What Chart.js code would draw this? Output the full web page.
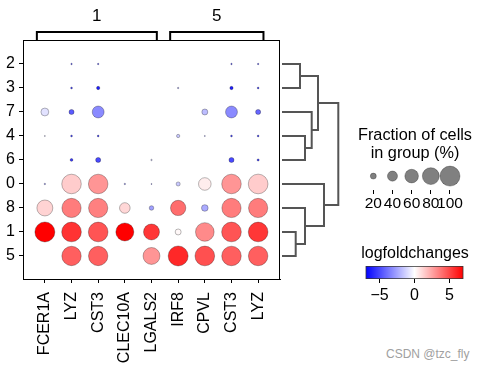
<!DOCTYPE html>
<html>
<head>
<meta charset="utf-8">
<script src="https://cdn.jsdelivr.net/npm/chart.js@4/dist/chart.umd.min.js"></script>
<style>
  body { margin: 0; background: #fff; }
  #wrap { position: relative; width: 484px; height: 371px; background: #fff; overflow: hidden; }
  canvas { position: absolute; }
  #mark { position: absolute; left: 386px; top: 347px; font: 12px "Liberation Sans", Arial, sans-serif; color: #a0a0a0; white-space: nowrap; }
</style>
</head>
<body>
<div id="wrap">
  <canvas id="dots" width="290" height="371" style="left:0;top:0;width:290px;height:371px"></canvas>
  <canvas id="dendro" width="60" height="239" style="left:282px;top:40px;width:60px;height:239px"></canvas>
  <canvas id="sizes" width="120" height="87" style="left:355px;top:127px;width:120px;height:87px"></canvas>
  <canvas id="cbar" width="120" height="60" style="left:355px;top:244px;width:120px;height:60px"></canvas>
  <div id="mark">CSDN @tzc_fly</div>
</div>
<script>
const rows = ['2', '3', '7', '4', '6', '0', '8', '1', '5'];
const genes = ['FCER1A', 'LYZ', 'CST3', 'CLEC10A', 'LGALS2', 'IRF8', 'CPVL', 'CST3', 'LYZ'];

const groupLabels = ['1', '5'];
const groupStart = [0, 5];
const groupEnd = [4, 8];

// fraction of cells expressing (%), one array per row
const fractions = [
    [0, 3, 3, 0, 0, 0, 0, 3, 3],
    [0, 4, 9, 0, 0, 3, 0, 9, 4],
    [29, 16, 50, 0, 0, 0, 20, 50, 16],
    [2, 4, 4, 0, 0, 9, 2, 4, 4],
    [0, 7, 16, 0, 3, 0, 0, 16, 5],
    [3, 97, 97, 3, 2, 12, 54, 97, 98],
    [74, 95, 95, 43, 14, 70, 23, 95, 95],
    [100, 98, 98, 87, 74, 20, 91, 98, 98],
    [0, 96, 96, 0, 80, 100, 98, 97, 97],
];

// logfoldchanges, same layout
const lfc = [
    [0, -5, -5, 0, 0, 0, 0, -5, -5],
    [0, -5, -6.2, 0, 0, -2.5, 0, -6.2, -5],
    [-0.8, -4.5, -3.2, 0, 0, 0, -1.8, -3.2, -4.2],
    [-1.5, -5, -5, 0, 0, -1.5, -3, -5, -5],
    [0, -5.5, -5, 0, -1.5, 0, 0, -5, -5.5],
    [-3, 1.4, 2.9, -3, -3, -1.5, 0.5, 2.9, 1.4],
    [1.2, 3.6, 3.5, 1.1, -2.6, 4.0, -2.3, 3.6, 3.6],
    [7, 5.6, 4.7, 7, 5.5, 0.2, 3.2, 4.7, 5.5],
    [0, 4.4, 4.4, 0, 2.9, 5.9, 4.8, 4.4, 4.4],
];

// dendrogram merges: left child, right child, height, new node name
const linkLeft = ['2', '4', '7', 'A', '1', '8', '0', 'D'];
const linkRight = ['3', '6', 'B', 'C', '5', 'E', 'F', 'G'];
const linkHeight = [18, 23, 29.7, 36, 13.7, 23, 42, 56.3];
const linkName = ['A', 'B', 'C', 'D', 'E', 'F', 'G', 'R'];

const sizeTicks = [20, 40, 60, 80, 100];
const colorTicks = [-5, 0, 5];
const vmin = -7, vmax = 7;

const FONT = '"Liberation Sans", Arial, sans-serif';
Chart.defaults.font.family = FONT;
Chart.defaults.color = '#000';
Chart.defaults.layout.autoPadding = false;

const dotRadius = (f) => 10 * Math.pow(f / 100, 0.75);
const bwr = (v) => {
    const t = (Math.min(Math.max(v, vmin), vmax) - vmin) / (vmax - vmin);
    if (t < 0.5) {
        const s = Math.round(255 * t * 2);
        return `rgb(${s},${s},255)`;
    }
    const s = Math.round(255 * (1 - (t - 0.5) * 2));
    return `rgb(255,${s},${s})`;
};

const points = [];
rows.forEach((r, i) => {
    genes.forEach((g, j) => {
        if (fractions[i][j] > 0) points.push({ x: j, y: i, f: fractions[i][j], v: lfc[i][j] });
    });
});

const groupPlugin = {
    id: 'groups',
    afterDraw(chart) {
        const { ctx, chartArea: a, scales: { x } } = chart;
        ctx.save();
        ctx.strokeStyle = '#000';
        ctx.lineWidth = 1;
        ctx.strokeRect(a.left + 0.5, a.top + 0.5, a.right - a.left - 1, a.bottom - a.top);
        ctx.lineWidth = 2;
        ctx.font = `17px ${FONT}`;
        ctx.fillStyle = '#000';
        ctx.textAlign = 'center';
        ctx.textBaseline = 'middle';
        groupLabels.forEach((lab, i) => {
            const x0 = x.getPixelForValue(groupStart[i] - 0.3);
            const x1 = x.getPixelForValue(groupEnd[i] + 0.2);
            ctx.beginPath();
            ctx.moveTo(x0, a.top);
            ctx.lineTo(x0, a.top - 8);
            ctx.lineTo(x1, a.top - 8);
            ctx.lineTo(x1, a.top);
            ctx.stroke();
            ctx.fillText(lab, (x0 + x1) / 2, 16);
        });
        ctx.restore();
    },
};

new Chart(document.getElementById('dots'), {
    type: 'scatter',
    data: {
        datasets: [{
            data: points,
            pointRadius: (c) => (c.raw ? dotRadius(c.raw.f) : 0),
            pointBackgroundColor: (c) => (c.raw ? bwr(c.raw.v) : '#fff'),
            pointBorderColor: 'rgba(0,0,0,0.55)',
            pointBorderWidth: 0.5,
            clip: false,
        }],
    },
    options: {
        responsive: false,
        animation: false,
        events: [],
        layout: { padding: { top: 40, right: 10, left: 0, bottom: 0 } },
        plugins: { legend: { display: false }, tooltip: { enabled: false } },
        scales: {
            x: {
                type: 'linear',
                min: -0.82,
                max: 8.82,
                afterBuildTicks: (s) => { s.ticks = genes.map((g, i) => ({ value: i })); },
                afterFit: (s) => { s.height = 92; },
                ticks: {
                    callback: (v) => genes[v],
                    minRotation: 90,
                    maxRotation: 90,
                    autoSkip: false,
                    padding: 9,
                    font: { size: 16 },
                    color: '#000',
                },
                grid: { drawOnChartArea: false, tickLength: 4, color: '#000' },
                border: { color: '#000' },
            },
            y: {
                type: 'linear',
                reverse: true,
                min: -1,
                max: 8.96,
                afterBuildTicks: (s) => { s.ticks = rows.map((r, i) => ({ value: i })); },
                afterFit: (s) => { s.width = 23; },
                ticks: { callback: (v) => rows[v], padding: 4, font: { size: 16 }, color: '#000', autoSkip: false },
                grid: { drawOnChartArea: false, tickLength: 4, color: '#000' },
                border: { color: '#000' },
            },
        },
    },
    plugins: [groupPlugin],
});

// dendrogram
const nodes = {};
rows.forEach((r, i) => { nodes[r] = { y: i, h: 0 }; });
const links = linkName.map((name, k) => {
    const a = nodes[linkLeft[k]];
    const b = nodes[linkRight[k]];
    const h = linkHeight[k];
    nodes[name] = { y: (a.y + b.y) / 2, h };
    return {
        data: [{ x: a.h, y: a.y }, { x: h, y: a.y }, { x: h, y: b.y }, { x: b.h, y: b.y }],
        showLine: true,
        borderColor: '#555',
        borderWidth: 2,
        pointRadius: 0,
        tension: 0,
        clip: false,
    };
});

new Chart(document.getElementById('dendro'), {
    type: 'scatter',
    data: { datasets: links },
    options: {
        responsive: false,
        animation: false,
        events: [],
        layout: { padding: 0 },
        plugins: { legend: { display: false }, tooltip: { enabled: false } },
        scales: {
            x: { type: 'linear', min: 0, max: 60, display: false },
            y: { type: 'linear', reverse: true, min: -1, max: 8.96, display: false },
        },
    },
});

// dot size legend
new Chart(document.getElementById('sizes'), {
    type: 'scatter',
    data: {
        datasets: [{
            data: sizeTicks.map((s) => ({ x: s, y: 0.5, f: s })),
            pointRadius: (c) => (c.raw ? dotRadius(c.raw.f) : 0),
            pointBackgroundColor: 'rgb(128,128,128)',
            pointBorderColor: 'rgba(0,0,0,0.55)',
            pointBorderWidth: 0.5,
            clip: false,
        }],
    },
    options: {
        responsive: false,
        animation: false,
        events: [],
        layout: { padding: 0 },
        plugins: {
            legend: { display: false },
            tooltip: { enabled: false },
            title: {
                display: true,
                text: ['Fraction of cells', 'in group (%)'],
                font: { size: 16.3, weight: 'normal', lineHeight: 1.08 },
                color: '#000',
                padding: { top: 0, bottom: 0 },
            },
        },
        scales: {
            x: {
                type: 'linear',
                min: 0.9,
                max: 126.1,
                afterBuildTicks: (s) => { s.ticks = sizeTicks.map((v) => ({ value: v })); },
                afterFit: (s) => { s.height = 24; },
                ticks: { padding: 0, font: { size: 15.5 }, color: '#000', maxRotation: 0, autoSkip: false },
                grid: { drawOnChartArea: false, tickLength: 4, color: '#000' },
                border: { display: false },
            },
            y: { type: 'linear', min: 0, max: 1, display: false },
        },
    },
});

// colorbar: scale padded past vmin/vmax so the bar sits inside the canvas
new Chart(document.getElementById('cbar'), {
    type: 'bar',
    data: {
        labels: [''],
        datasets: [{
            data: [[vmin, vmax]],
            backgroundColor: (c) => {
                const chart = c.chart;
                if (!chart.chartArea) return '#fff';
                const xs = chart.scales.x;
                const g = chart.ctx.createLinearGradient(xs.getPixelForValue(vmin), 0, xs.getPixelForValue(vmax), 0);
                g.addColorStop(0, 'rgb(0,0,255)');
                g.addColorStop(0.5, 'rgb(255,255,255)');
                g.addColorStop(1, 'rgb(255,0,0)');
                return g;
            },
            borderColor: '#333',
            borderWidth: 1,
            borderSkipped: false,
            barPercentage: 1,
            categoryPercentage: 1,
        }],
    },
    options: {
        indexAxis: 'y',
        responsive: false,
        animation: false,
        events: [],
        layout: { padding: 0 },
        plugins: {
            legend: { display: false },
            tooltip: { enabled: false },
            title: {
                display: true,
                text: 'logfoldchanges',
                font: { size: 16, weight: 'normal', lineHeight: 1.2 },
                color: '#000',
                padding: { top: 0, bottom: 2.8 },
            },
        },
        scales: {
            x: {
                type: 'linear',
                min: -8.535,
                max: 8.678,
                afterBuildTicks: (s) => { s.ticks = colorTicks.map((v) => ({ value: v })); },
                afterFit: (s) => { s.height = 25; },
                ticks: {
                    callback: (v) => (v < 0 ? '\u2212' + Math.abs(v) : String(v)),
                    padding: 3,
                    font: { size: 16 },
                    color: '#000',
                    maxRotation: 0,
                },
                grid: { drawOnChartArea: false, tickLength: 4, color: '#000' },
                border: { display: false },
            },
            y: { display: false },
        },
    },
});
</script>
</body>
</html>
